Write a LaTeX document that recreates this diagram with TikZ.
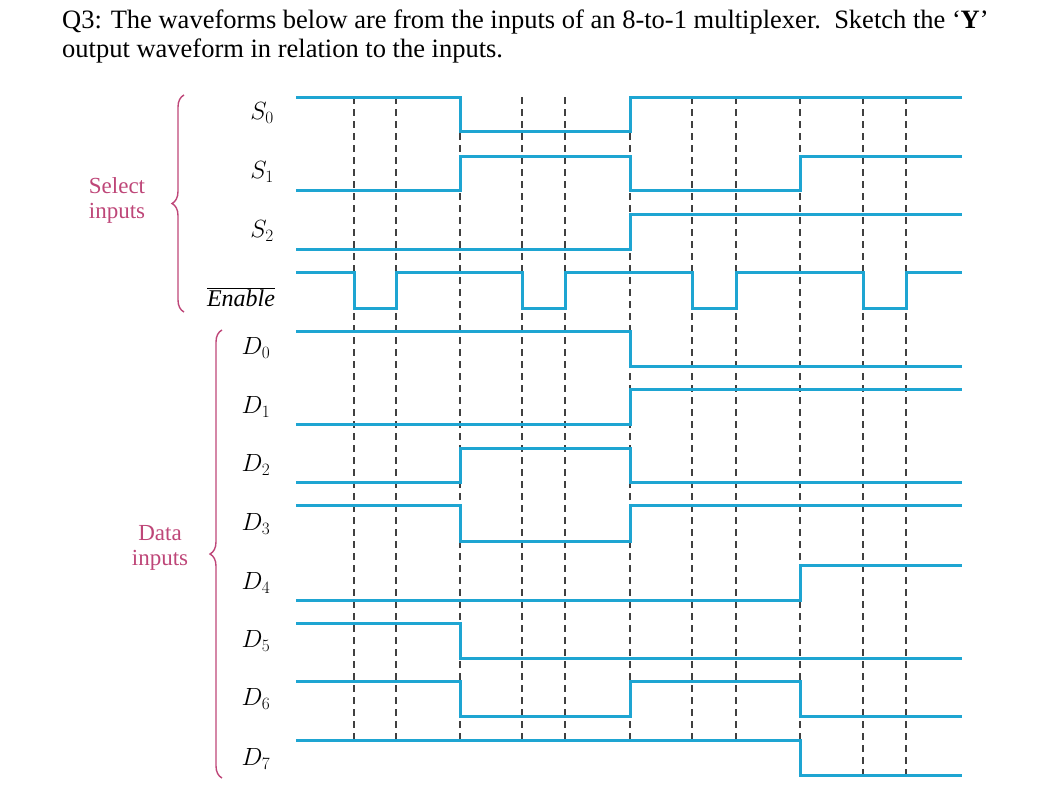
\documentclass[tikz,border=0pt]{standalone}
\usepackage{fontspec}
\setmainfont{Liberation Serif}
\usetikzlibrary{decorations.pathreplacing}
\definecolor{wave}{RGB}{30,165,210}
\definecolor{brc}{RGB}{190,70,120}
\begin{document}
\begin{tikzpicture}[x=1pt,y=-1pt,
  wv/.style={wave,line width=3pt},
  grid/.style={black!75,line width=1.4pt,dash pattern=on 7pt off 5pt},
  lbl/.style={font=\fontsize{24}{28}\selectfont\itshape,anchor=center},
  grp/.style={brc,font=\fontsize{23}{25}\selectfont,align=center},
  br/.style={brc,line width=1.4pt,decorate,decoration={brace,amplitude=12pt,mirror}}]
\useasboundingbox (0,0) rectangle (1055,808);
\node[anchor=north west,align=left,font=\fontsize{26.5}{29}\selectfont,inner sep=0] (title) at (62,10)
 {Q3: The waveforms below are from the inputs of an 8-to-1 multiplexer.\ \ Sketch the `\textbf{Y}'\\output waveform in relation to the inputs.};
\foreach \x/\yb in {354/740,396/740,460/740,522/740,565/740,630/740,692/740,736/740,800/740,863/775,906/775}
  \draw[grid] (\x,97) -- (\x,\yb);
% S0
\draw[wv] (296,97) -- (460,97) -- (460,131) -- (630,131) -- (630,97) -- (962,97);
% S1
\draw[wv] (296,190) -- (460,190) -- (460,156) -- (630,156) -- (630,190) -- (800,190) -- (800,156) -- (962,156);
% S2
\draw[wv] (296,249) -- (630,249) -- (630,214) -- (962,214);
% Enable
\draw[wv] (296,272) -- (354,272) -- (354,308) -- (396,308) -- (396,272) -- (522,272) -- (522,308) -- (565,308) -- (565,272) -- (692,272) -- (692,308) -- (736,308) -- (736,272) -- (863,272) -- (863,308) -- (906,308) -- (906,272) -- (962,272);
% D0
\draw[wv] (296,331) -- (630,331) -- (630,366) -- (962,366);
% D1
\draw[wv] (296,424) -- (630,424) -- (630,389) -- (962,389);
% D2
\draw[wv] (296,482) -- (460,482) -- (460,448) -- (630,448) -- (630,482) -- (962,482);
% D3
\draw[wv] (296,505) -- (460,505) -- (460,541) -- (630,541) -- (630,505) -- (962,505);
% D4
\draw[wv] (296,600) -- (800,600) -- (800,565) -- (962,565);
% D5
\draw[wv] (296,623) -- (460,623) -- (460,658) -- (962,658);
% D6
\draw[wv] (296,681) -- (460,681) -- (460,716) -- (630,716) -- (630,681) -- (800,681) -- (800,716) -- (962,716);
% D7
\draw[wv] (296,740) -- (800,740) -- (800,775) -- (962,775);
% labels
\node[lbl] (s0) at (262,113) {$S_0$};
\node[lbl] (s1) at (262,172) {$S_1$};
\node[lbl] (s2) at (262,231) {$S_2$};
\node[lbl] (en) at (241,297) {$\overline{\textit{Enable}}$};
\node[lbl] (d0) at (256,348) {$D_0$};
\node[lbl] (d1) at (256,407) {$D_1$};
\node[lbl] (d2) at (256,465) {$D_2$};
\node[lbl] (d3) at (256,524) {$D_3$};
\node[lbl] (d4) at (256,583) {$D_4$};
\node[lbl] (d5) at (256,641) {$D_5$};
\node[lbl] (d6) at (256,699) {$D_6$};
\node[lbl] (d7) at (256,759) {$D_7$};
\draw[br] (184,95) -- (184,312);
\draw[br] (222,330) -- (222,778);
\node[grp] (sel) at (117,200) {Select\\inputs};
\node[grp] (dat) at (160,548) {Data\\inputs};
\end{tikzpicture}
\end{document}
